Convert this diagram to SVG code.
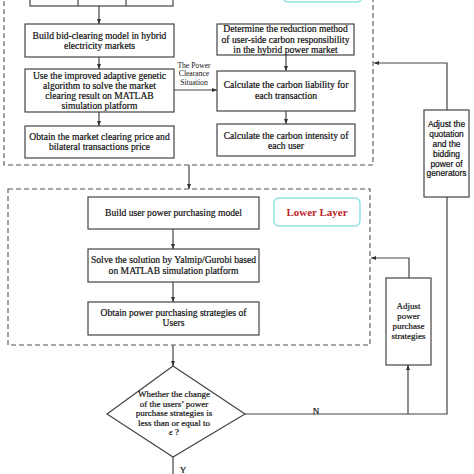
<svg xmlns="http://www.w3.org/2000/svg" width="474" height="474" viewBox="0 0 474 474">
<defs>
<marker id="ah" viewBox="0 0 10 10" refX="10" refY="5" markerWidth="5" markerHeight="5" orient="auto" markerUnits="userSpaceOnUse">
<path d="M0,1 L10,5 L0,9 z" fill="#333"/>
</marker>
<style>
.b{fill:#fff;stroke:#444;stroke-width:1.2}
.d{fill:none;stroke:#555;stroke-width:1.1;stroke-dasharray:5,3}
.c{fill:none;stroke:#444;stroke-width:1.2}
.t{font-family:"Liberation Serif","DejaVu Serif",serif;font-size:9.6px;fill:#111;text-anchor:middle;stroke:#111;stroke-width:0.2}
.u{font-family:"Liberation Serif","DejaVu Serif",serif;font-size:9px;fill:#111;text-anchor:middle;stroke:#111;stroke-width:0.2}
.s{font-family:"Liberation Sans","DejaVu Sans",sans-serif;font-size:8.4px;fill:#111;text-anchor:middle;stroke:#111;stroke-width:0.2}
.l{font-family:"Liberation Serif","DejaVu Serif",serif;font-size:7.6px;fill:#111;text-anchor:middle}
.cy{fill:#fff;stroke:#8fe3e3;stroke-width:1.5}
</style>
</defs>
<rect width="474" height="474" fill="#fff"/>
<g id="upper-layer">
<rect class="d" x="4" y="-10" width="369" height="175"/>
</g>
<g id="lower-layer">
<rect class="d" x="8" y="189" width="362" height="156"/>
</g>
<g id="top-box">
<rect class="b" x="30" y="-20" width="143" height="26"/>
<line class="c" x1="78" y1="-20" x2="78" y2="6"/>
<line class="c" x1="126" y1="-20" x2="126" y2="6"/>
</g>
<g id="upper-label"><rect class="cy" x="283" y="-20" width="79" height="22" rx="5"/></g>
<g id="n1"><rect class="b" x="25" y="24" width="149" height="33"/>
<text class="t" x="99.5" y="39">Build bid-clearing model in hybrid</text>
<text class="t" x="99.5" y="49">electricity markets</text></g>
<g id="n2"><rect class="b" x="25" y="69" width="149" height="43"/>
<text class="t" x="99.5" y="79">Use the improved adaptive genetic</text>
<text class="t" x="99.5" y="89">algorithm to solve the market</text>
<text class="t" x="99.5" y="99">clearing result on MATLAB</text>
<text class="t" x="99.5" y="109">simulation platform</text></g>
<g id="n3"><rect class="b" x="25" y="126" width="149" height="32"/>
<text class="t" x="99.5" y="140">Obtain the market clearing price and</text>
<text class="t" x="99.5" y="150">bilateral transactions price</text></g>
<g id="n4"><rect class="b" x="217" y="24" width="137" height="31"/>
<text class="t" x="285.5" y="32">Determine the reduction method</text>
<text class="t" x="285.5" y="43">of user-side carbon responsibility</text>
<text class="t" x="285.5" y="53">in the hybrid power market</text></g>
<g id="n5"><rect class="b" x="217" y="71" width="138" height="40"/>
<text class="t" x="286" y="88">Calculate the carbon liability for</text>
<text class="t" x="286" y="99">each transaction</text></g>
<g id="n6"><rect class="b" x="217" y="124" width="138" height="32"/>
<text class="t" x="286" y="139">Calculate the carbon intensity of</text>
<text class="t" x="286" y="149">each user</text></g>
<g id="n7"><rect class="b" x="424" y="110" width="45" height="87"/>
<text class="s" x="446.5" y="127">Adjust the</text>
<text class="s" x="446.5" y="137">quotation</text>
<text class="s" x="446.5" y="147">and the</text>
<text class="s" x="446.5" y="157">bidding</text>
<text class="s" x="446.5" y="167">power of</text>
<text class="s" x="446.5" y="176">generators</text></g>
<g id="n8"><rect class="b" x="88" y="197" width="171" height="32"/>
<text class="t" x="173.5" y="216">Build user power purchasing model</text></g>
<g id="lower-label"><rect class="cy" x="274" y="198" width="86" height="28" rx="5"/>
<text x="317" y="216" style="font-family:'Liberation Serif','DejaVu Serif',serif;font-size:11px;font-weight:bold;fill:#c0262c;text-anchor:middle">Lower Layer</text></g>
<g id="n9"><rect class="b" x="88" y="249" width="171" height="33"/>
<text class="t" x="173.5" y="263">Solve the solution by Yalmip/Gurobi based</text>
<text class="t" x="173.5" y="273.5">on MATLAB simulation platform</text></g>
<g id="n10"><rect class="b" x="88" y="302" width="171" height="33"/>
<text class="t" x="173.5" y="316">Obtain power purchasing strategies of</text>
<text class="t" x="173.5" y="326">Users</text></g>
<g id="n11"><rect class="b" x="386" y="278" width="45" height="87"/>
<text class="u" x="408.5" y="309">Adjust</text>
<text class="u" x="408.5" y="319">power</text>
<text class="u" x="408.5" y="329">purchase</text>
<text class="u" x="408.5" y="339">strategies</text></g>
<g id="n12"><polygon class="b" points="173,366 245,414 173,457 107,414"/>
<text class="u" x="174" y="397">Whether the change</text>
<text class="u" x="174" y="406.5">of the users’  power</text>
<text class="u" x="174" y="416">purchase strategies is</text>
<text class="u" x="174" y="425.5">less than or equal to</text>
<text class="u" x="174" y="435"><tspan font-style="italic">ε</tspan> ?</text></g>
<g id="connectors">
<line class="c" x1="99" y1="6" x2="99" y2="24" marker-end="url(#ah)"/>
<line class="c" x1="99" y1="57" x2="99" y2="69" marker-end="url(#ah)"/>
<line class="c" x1="99" y1="112" x2="99" y2="126" marker-end="url(#ah)"/>
<line class="c" x1="174" y1="90" x2="217" y2="90" marker-end="url(#ah)"/>
<line class="c" x1="286" y1="55" x2="286" y2="71" marker-end="url(#ah)"/>
<line class="c" x1="286" y1="111" x2="286" y2="124" marker-end="url(#ah)"/>
<line class="c" x1="189" y1="165" x2="189" y2="189" marker-end="url(#ah)"/>
<line class="c" x1="173" y1="229" x2="173" y2="249" marker-end="url(#ah)"/>
<line class="c" x1="173" y1="282" x2="173" y2="302" marker-end="url(#ah)"/>
<line class="c" x1="173" y1="345" x2="173" y2="366" marker-end="url(#ah)"/>
<line class="c" x1="173" y1="457" x2="173" y2="474"/>
<polyline class="c" points="245,414 447,414 447,197"/>
<polyline class="c" points="447,110 447,63 374,63" marker-end="url(#ah)"/>
<line class="c" x1="408" y1="414" x2="408" y2="365" marker-end="url(#ah)"/>
<polyline class="c" points="409,278 409,258 371,258" marker-end="url(#ah)"/>
<text class="l" x="194" y="68">The Power</text>
<text class="l" x="194" y="76">Clearance</text>
<text class="l" x="194" y="85">Situation</text>
<text class="u" x="316" y="414">N</text>
<text class="u" x="183" y="473">Y</text>
</g>
</svg>
